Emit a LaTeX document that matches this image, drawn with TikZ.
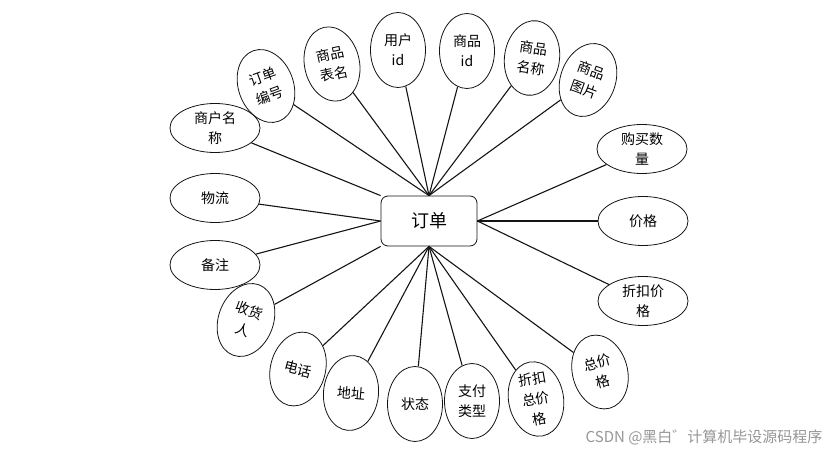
\documentclass[tikz,border=0pt]{standalone}
\usepackage{fontspec}
\setmainfont{Noto Sans CJK SC}
\usetikzlibrary{shapes.geometric}
\definecolor{cLine}{RGB}{20,20,20}
\definecolor{cMark}{RGB}{150,150,150}
\tikzset{
  attrnode/.style={ellipse, draw=cLine, line width=0.8pt, inner sep=0pt,
                   minimum width=55pt, minimum height=75pt, align=center,
                   font=\fontsize{14}{20}\selectfont},
  wideattr/.style={attrnode, minimum width=90pt, minimum height=49pt},
  entitynode/.style={rectangle, rounded corners=7pt, draw=cLine, line width=0.8pt,
                     minimum width=96pt, minimum height=50pt,
                     font=\fontsize{18}{20}\selectfont},
  link/.style={draw=cLine, line width=1.1pt}
}

\begin{document}
\begin{tikzpicture}[x=1pt, y=-1pt]

  \useasboundingbox (0,0) rectangle (839,455);

  % Entity
  \node[entitynode] (order) at (429,221) {订单};

  % Top attributes
  \node[wideattr] (merchant) at (215,128) {商户名\\称};
  \node[attrnode, rotate=20] (orderno) at (266,86) {订单\\编号};
  \node[attrnode, rotate=12] (tabname) at (332,64) {商品\\表名};
  \node[attrnode] (userid) at (398,50) {用户\\id};
  \node[attrnode] (goodsid) at (467,51) {商品\\id};
  \node[attrnode, rotate=-8] (goodsname) at (532,58) {商品\\名称};
  \node[attrnode, rotate=-20] (goodspic) at (588,80) {商品\\图片};

  % Left attributes
  \node[wideattr] (logistics) at (215,198) {物流};
  \node[wideattr] (remark) at (215,265) {备注};
  \node[attrnode, rotate=-20] (receiver) at (246,320) {收货\\人};

  % Right attributes
  \node[wideattr] (quantity) at (642,149) {购买数\\量};
  \node[wideattr] (price) at (643,221) {价格};
  \node[wideattr] (discprice) at (643,301) {折扣价\\格};

  % Bottom attributes
  \node[attrnode, rotate=-15] (phone) at (298,369) {电话};
  \node[attrnode, rotate=-5] (address) at (351,393) {地址};
  \node[attrnode] (status) at (415,404) {状态};
  \node[attrnode] (paytype) at (472,401) {支付\\类型};
  \node[attrnode, rotate=10] (disctotal) at (536,399) {折扣\\总价\\格};
  \node[attrnode, rotate=15] (total) at (600,372) {总价\\格};

  % Links
  \draw[link] (order.north west) -- (merchant);
  \foreach \a in {orderno, tabname, userid, goodsid, goodsname, goodspic}
    \draw[link] (order.north) -- (\a);
  \foreach \a in {logistics, remark}
    \draw[link] (order.west) -- (\a);
  \draw[link] (order.south west) -- (receiver);
  \foreach \a in {quantity, price, discprice}
    \draw[link] (order.east) -- (\a);
  \foreach \a in {phone, address, status, paytype, disctotal, total}
    \draw[link] (order.south) -- (\a);

  % Watermark
  \node[text=cMark, anchor=east, font=\fontsize{15}{17}\selectfont] (mark) at (826,437)
      {CSDN @黑白゛计算机毕设源码程序};

\end{tikzpicture}
\end{document}
